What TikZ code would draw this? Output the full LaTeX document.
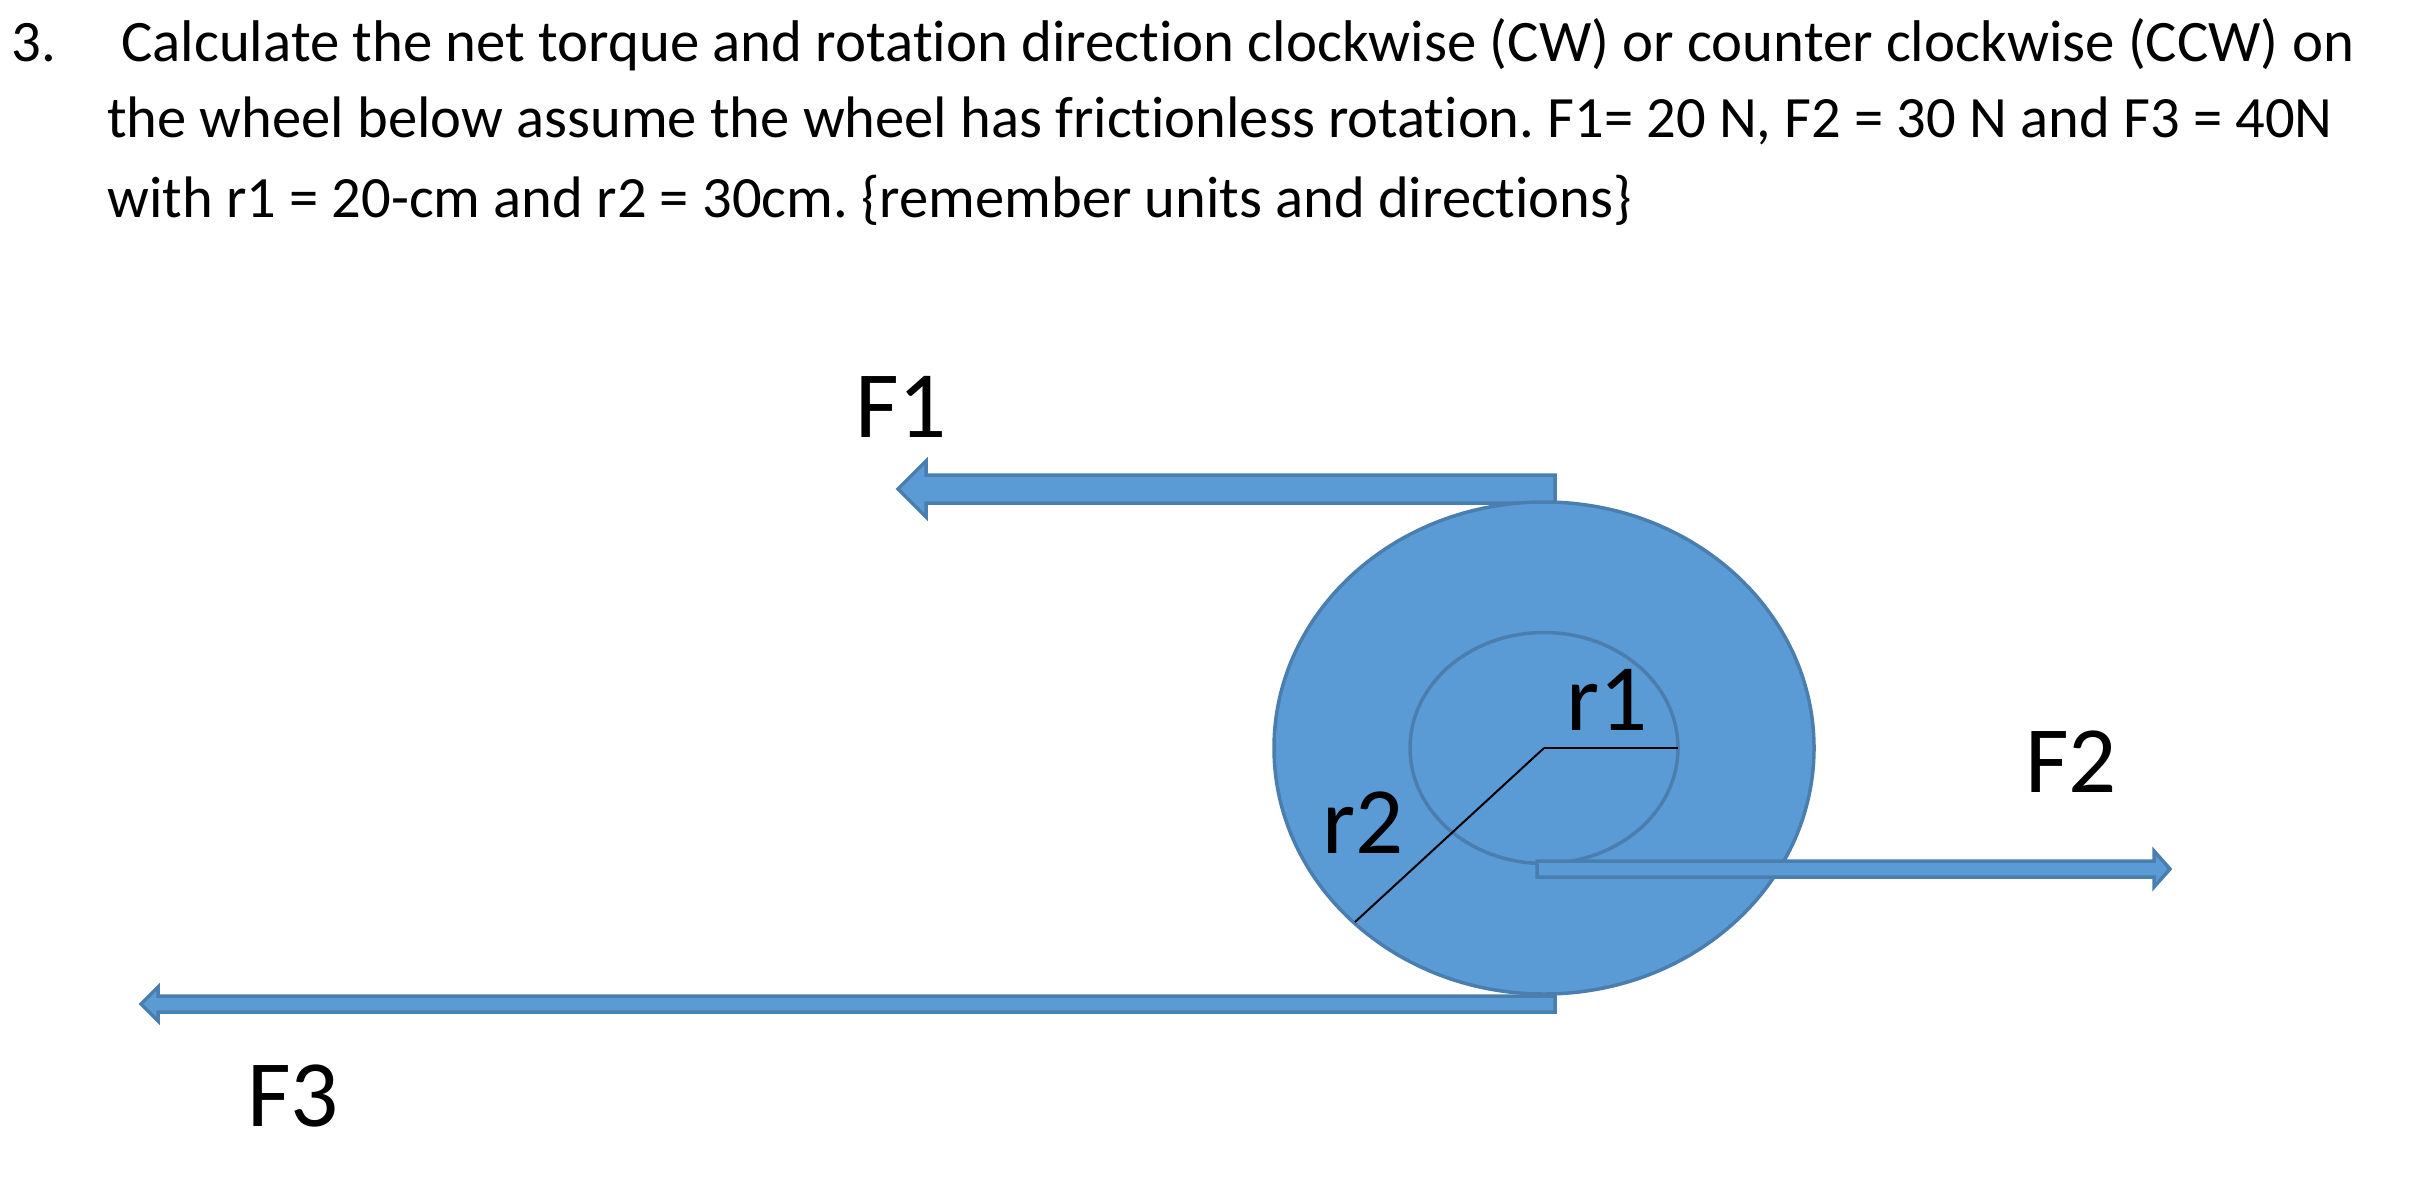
\documentclass[tikz,border=0pt]{standalone}
\usepackage{fontspec}
\setmainfont{Carlito}[Ligatures={NoCommon}]
\usetikzlibrary{calc,shapes.geometric}
\definecolor{wheelfill}{HTML}{5B9BD5}
\definecolor{wheeledge}{HTML}{4A7EAE}
\tikzset{
  x=1pt,y=-1pt,
  wheelshape/.style={ellipse,draw=wheeledge,line width=3.5pt,inner sep=0pt,outer sep=0pt},
  blockarrow/.style={fill=wheelfill,draw=wheeledge,line width=3.5pt,line join=miter},
  radius line/.style={draw=black,line width=2.5pt},
  header/.style={anchor=base west,inner sep=0pt,font=\fontsize{58.8}{58.8}\selectfont\frenchspacing},
  header tight/.style={header,font=\fontsize{58.55}{58.55}\selectfont\frenchspacing},
  label/.style={anchor=base west,inner sep=0pt,font=\fontsize{95}{95}\selectfont},
}
% tail, tip, half shaft, half head, head length (signed toward tail)
\newcommand{\blockarr}[5]{%
  \draw[blockarrow] ($(#1)+(0,-#3)$) -- ($(#2)+(#5,-#3)$) -- ($(#2)+(#5,-#4)$) -- (#2)
    -- ($(#2)+(#5,#4)$) -- ($(#2)+(#5,#3)$) -- ($(#1)+(0,#3)$) -- cycle;}
\begin{document}
\begin{tikzpicture}
\useasboundingbox (0,0) rectangle (2427,1180);
\fill[white] (0,0) rectangle (2427,1180);
\node[header] (num) at (11,62) {3.};
\node[header] (l1) at (121,62) {Calculate the net torque and rotation direction clockwise (CW) or counter clockwise (CCW) on};
\node[header tight] (l2) at (107,138) {the wheel below assume the wheel has frictionless rotation. F1= 20 N, F2 = 30 N and F3 = 40N};
\node[header tight] (l3) at (107,217) {with r1 = 20-cm and r2 = 30cm. \{remember units and directions\}};

\coordinate (f1tail) at (1555,489);
\coordinate (f1tip) at (898,489);
\blockarr{f1tail}{f1tip}{14}{28}{28}
\node[wheelshape,fill=wheelfill,minimum width=540pt,minimum height=492pt] (wheel) at (1544,748) {};
\node[wheelshape,minimum width=268pt,minimum height=231pt] (hub) at (1544,748) {};
\coordinate (rimpoint) at (1355,922);
\draw[radius line] (hub.center) -- (hub.east);
\draw[radius line,line width=2pt] (hub.center) -- (rimpoint);
\coordinate (f2tail) at (1537,869);
\coordinate (f2tip) at (2170,869);
\blockarr{f2tail}{f2tip}{8}{18}{-16}
\coordinate (f3tail) at (1555,1004);
\coordinate (f3tip) at (141,1004);
\blockarr{f3tail}{f3tip}{8}{17}{17}

\node[label] (F1) at (855,437) {F1};
\node[label] (F2) at (2025,792) {F2};
\node[label] (F3) at (247,1126) {F3};
\node[label] (r1) at (1566,730) {r1};
\node[label] (r2) at (1322,853) {r2};
\end{tikzpicture}
\end{document}
